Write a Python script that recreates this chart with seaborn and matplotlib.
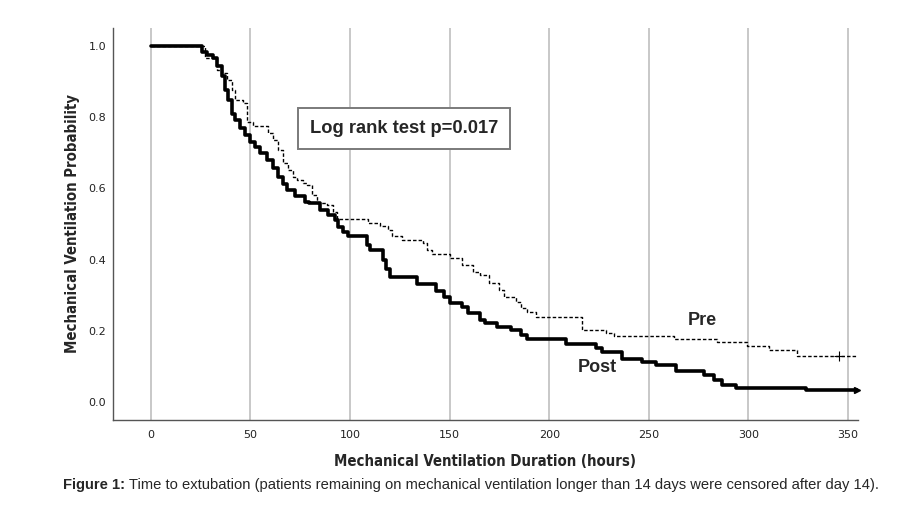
import matplotlib.pyplot as plt
import seaborn as sns
import pandas as pd

# Kaplan-Meier step values (hours, probability)
post_time = [0, 25.6, 28.1, 31.1, 33.1, 35.6, 37.1, 38.6, 40.6, 42.1, 44.6, 47.1,
             49.6, 52.2, 54.7, 58.2, 61.2, 63.7, 66.2, 68.2, 72.2, 77.2, 79.5,
             84.8, 88.8, 92.3, 93.8, 96.3, 98.8, 108.3, 109.8, 116.3, 117.9,
             119.9, 133.4, 143.4, 147.4, 150.0, 156.0, 159.0, 165.0, 167.5,
             174.0, 181.0, 186.0, 188.6, 208.6, 223.7, 226.7, 236.7, 246.7,
             253.8, 263.8, 277.8, 282.8, 286.9, 293.9, 329.0, 354.6]
post_surv = [1.0, 0.984, 0.975, 0.966, 0.942, 0.914, 0.876, 0.848, 0.81, 0.792,
             0.77, 0.75, 0.731, 0.717, 0.699, 0.68, 0.657, 0.633, 0.612, 0.596,
             0.579, 0.563, 0.558, 0.539, 0.525, 0.511, 0.492, 0.478, 0.466,
             0.441, 0.427, 0.40, 0.375, 0.35, 0.331, 0.313, 0.295, 0.278,
             0.268, 0.251, 0.23, 0.221, 0.21, 0.202, 0.188, 0.177, 0.163,
             0.152, 0.14, 0.12, 0.113, 0.104, 0.087, 0.076, 0.062, 0.048,
             0.040, 0.034, 0.034]

pre_time = [0, 27.1, 33.1, 35.6, 38.1, 40.6, 42.1, 46.1, 48.1, 51.2, 58.7, 61.2,
            63.7, 66.2, 68.7, 71.2, 73.2, 76.2, 78.2, 80.7, 83.2, 88.3, 91.3,
            93.3, 108.8, 114.8, 118.9, 120.9, 125.9, 136.4, 138.4, 140.9,
            150.0, 156.0, 161.5, 165.0, 170.0, 175.0, 177.5, 183.5, 186.0,
            189.0, 193.6, 216.6, 228.7, 232.7, 262.8, 284.3, 299.4, 310.4,
            324.5, 354.6]
pre_surv = [1.0, 0.966, 0.933, 0.924, 0.904, 0.876, 0.848, 0.84, 0.787, 0.775,
            0.755, 0.736, 0.708, 0.671, 0.652, 0.633, 0.624, 0.615, 0.61,
            0.581, 0.558, 0.553, 0.535, 0.515, 0.502, 0.494, 0.483, 0.466,
            0.455, 0.447, 0.427, 0.416, 0.404, 0.385, 0.366, 0.357, 0.334,
            0.315, 0.295, 0.282, 0.264, 0.254, 0.24, 0.202, 0.193, 0.186,
            0.177, 0.168, 0.158, 0.146, 0.13, 0.13]
pre_censor_time = [345.5]

xticks = [0, 50, 100, 150, 200, 250, 300, 350]
yticks = [0.0, 0.2, 0.4, 0.6, 0.8, 1.0]

sns.set_style('white')
plt.rcParams['font.family'] = ['DejaVu Sans']

df_post = pd.DataFrame({'t': post_time, 's': post_surv})
df_pre = pd.DataFrame({'t': pre_time, 's': pre_surv})

fig = plt.figure(figsize=(9.15, 5.07), dpi=100)
ax = fig.add_axes([0.1235, 0.1716, 0.8142, 0.7732])

for x in xticks:
    ax.axvline(x, color='#c8c8c8', lw=1.4, zorder=0)

sns.lineplot(data=df_pre, x='t', y='s', estimator=None, drawstyle='steps-post',
             color='black', lw=1.0, linestyle=(0, (2.5, 1.5)), ax=ax)
sns.lineplot(data=df_post, x='t', y='s', estimator=None, drawstyle='steps-post',
             color='black', lw=2.6, ax=ax)

# censor tick on Pre curve and arrow end of Post curve
ax.plot(pre_censor_time, [pre_surv[-1]], marker='+', color='black', ms=7, mew=0.8)
ax.plot(post_time[-1:], post_surv[-1:], marker='>', color='black', ms=5, clip_on=False)

ax.set_xlim(-19, 355)
ax.set_ylim(-0.05, 1.05)
ax.set_xticks(xticks)
ax.set_yticks(yticks)
ax.set_yticklabels([f'{v:.1f}' for v in yticks])
ax.tick_params(axis='x', length=0, labelsize=8, colors='#222222', pad=7)
ax.tick_params(axis='y', length=0, labelsize=8, colors='#222222', pad=5)
for side in ['top', 'right']:
    ax.spines[side].set_visible(False)
for side in ['left', 'bottom']:
    ax.spines[side].set_color('#555555')
    ax.spines[side].set_linewidth(1.0)

ax.set_xlabel('Mechanical Ventilation Duration (hours)', fontsize=10.7,
              fontweight='bold', fontstretch='condensed', labelpad=10)
ax.set_ylabel('Mechanical Ventilation Probability', fontsize=10.7,
              fontweight='bold', fontstretch='condensed', labelpad=6)

arial = 'Liberation Sans'
ax.text(126.9, 0.767, 'Log rank test p=0.017', family=arial, fontsize=13.2,
        fontweight='bold', ha='center', va='center',
        bbox=dict(boxstyle='square,pad=0.65', fc='white', ec='#7a7a7a', lw=1.4))
ax.text(276.8, 0.230, 'Pre', family=arial, fontsize=13, fontweight='bold',
        ha='center', va='center')
ax.text(224.2, 0.098, 'Post', family=arial, fontsize=13, fontweight='bold',
        ha='center', va='center')

cap = fig.text(0.069, 0.043, 'Figure 1:', family=arial, fontsize=10.6,
               fontweight='bold', ha='left', va='center')
fig.add_artist(plt.Annotation(
    ' Time to extubation (patients remaining on mechanical ventilation longer '
    'than 14 days were censored after day 14).',
    xy=(1, 0.5), xycoords=cap, family=arial, fontsize=10.6,
    ha='left', va='center'))

plt.savefig('out.png', dpi=100)
